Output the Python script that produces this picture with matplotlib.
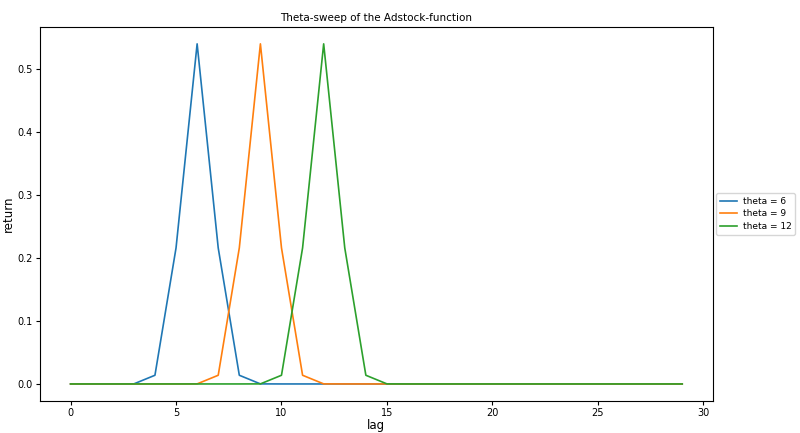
import matplotlib
matplotlib.use("Agg")
import matplotlib.pyplot as plt

lags = list(range(30))
theta6 = [0, 0, 0, 0.0001, 0.0138, 0.216, 0.54, 0.216, 0.0138, 0.0001] + [0] * 20
theta9 = [0, 0, 0, 0, 0, 0, 0.0001, 0.0138, 0.216, 0.54, 0.216, 0.0138, 0.0001] + [0] * 17
theta12 = [0] * 9 + [0.0001, 0.0138, 0.216, 0.54, 0.216, 0.0138, 0.0001] + [0] * 14
labels = ["theta = 6", "theta = 9", "theta = 12"]

fig = plt.figure(figsize=(8, 4.33), dpi=100)
ax = fig.add_axes([0.05, 0.074, 0.841, 0.864])
for vals, lab in zip([theta6, theta9, theta12], labels):
    ax.plot(lags, vals, label=lab, linewidth=1.2)
ax.set_title("Theta-sweep of the Adstock-function", fontsize=7.5, pad=4)
ax.set_xlabel("lag", fontsize=8.5, labelpad=1)
ax.set_ylabel("return", fontsize=8.5, labelpad=2)
ax.tick_params(labelsize=7, length=3, pad=2)
ax.set_xlim(-1.45, 30.45)
ax.set_ylim(-0.027, 0.567)
ax.set_xticks([0, 5, 10, 15, 20, 25, 30])
ax.set_yticks([0.0, 0.1, 0.2, 0.3, 0.4, 0.5])
ax.legend(loc="center left", bbox_to_anchor=(1.0, 0.5), fontsize=6.5,
          handlelength=1.9, borderaxespad=0.4, borderpad=0.4, labelspacing=0.4,
          handletextpad=0.6)
fig.savefig("out.png", dpi=100)
